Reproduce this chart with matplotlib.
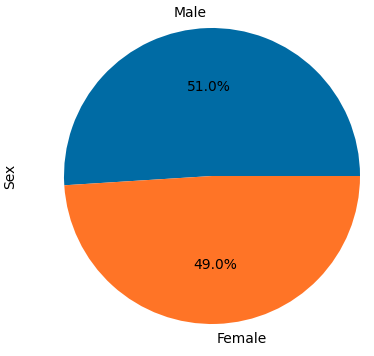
import matplotlib.pyplot as plt

# sex distribution
labels = ['Male', 'Female']
shares = [51.0, 49.0]
colors = ['#006BA4', '#FF7426']

fig = plt.figure(figsize=(3.74, 3.56), dpi=100)
# pie centred at (212, 180) px from bottom-left, radius 148 px
ax = fig.add_axes([64 / 374, 32 / 356, 296 / 374, 296 / 356])
ax.pie(shares, labels=labels, colors=colors, autopct='%1.1f%%')
ax.set_xlim(-1, 1)
ax.set_ylim(-1, 1)
ax.set_ylabel('Sex')
ax.yaxis.set_label_coords(-0.16, 0.5)

plt.savefig('out.png', dpi=100)
